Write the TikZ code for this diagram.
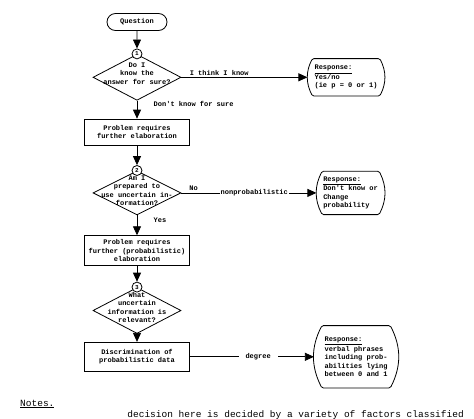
\documentclass[tikz,border=0pt]{standalone}
\usepackage{fontspec}
\setmonofont{Liberation Mono}
\usepackage{tikz}
\usetikzlibrary{shapes.geometric, shapes.misc, arrows.meta, positioning}

% outline of a response box: straight top and bottom, bulging sides
\newcommand{\respframe}[2]{%
  \draw[thick, rounded corners=1.5pt]
    ([xshift=#2]#1.north west) to[bend right=27] ([xshift=#2]#1.south west)
    -- ([xshift=-#2]#1.south east) to[bend right=27] ([xshift=-#2]#1.north east) -- cycle;}

\begin{document}
\begin{tikzpicture}[
    x=1pt, y=-1pt,
    every node/.style={font=\ttfamily\bfseries\fontsize{7}{8.5}\selectfont},
    stadium/.style={rounded rectangle, draw, thick, minimum width=60pt, minimum height=17pt, inner sep=0pt},
    stepbox/.style={rectangle, draw, thick, minimum width=105pt, inner sep=0pt, text centered, align=center},
    decision/.style={diamond, draw, thick, minimum width=88pt, minimum height=46pt, inner sep=0pt},
    dtext/.style={align=center, inner sep=0pt},
    numcirc/.style={circle, draw, thick, fill=white, minimum size=10pt, inner sep=0pt, font=\ttfamily\bfseries\fontsize{6}{6}\selectfont},
    response/.style={rectangle, align=left, inner sep=0pt},
    arrow/.style={-{Triangle[width=8pt,length=9pt]}, thick},
    notefont/.style={font=\ttfamily\fontsize{9.5}{10}\selectfont, inner sep=0pt}
]
\useasboundingbox (0,0) rectangle (474,418);

% Nodes
\node (quest) [stadium] at (137,22) {Question};
\node (d1) [decision, below=23pt of quest] {};
\node (d1txt) [dtext, yshift=4pt] at (d1) {Do I\\know the\\answer for sure?};
\node (c1) [numcirc] at (d1.north) {1};
\node (r1) [response, minimum width=77pt, minimum height=37pt, right=126pt of d1] {\underline{Response:}\\Yes/no\\(ie p = 0 or 1)};

\node (b1) [stepbox, minimum height=26pt, below=18pt of d1] {Problem requires\\further elaboration};
\node (d2) [decision, minimum height=44pt, below=25pt of b1] {};
\node (d2txt) [dtext, yshift=2pt] at (d2) {Am I\\prepared to\\use uncertain in-\\formation?};
\node (c2) [numcirc] at (d2.north) {2};
\node (r2) [response, minimum width=68pt, minimum height=43pt, right=135pt of d2] {\underline{Response:}\\Don't know or\\Change\\probability};

\node (b2) [stepbox, minimum height=30pt, below=20pt of d2] {Problem requires\\further (probabilistic)\\elaboration};
\node (d3) [decision, below=21pt of b2] {};
\node (d3txt) [dtext, yshift=3pt] at (d3) {What\\uncertain\\information is\\relevant?};
\node (c3) [numcirc] at (d3.north) {3};

\node (b3) [stepbox, minimum height=29pt, below=8pt of d3] {Discrimination of\\probabilistic data};
\node (r3) [response, minimum width=84pt, minimum height=62pt, right=124pt of b3] {\underline{Response:}\\verbal phrases\\including prob-\\abilities lying\\between 0 and 1};

\respframe{r1}{5pt}
\respframe{r2}{5.7pt}
\respframe{r3}{8pt}

\node (notes) [notefont, anchor=base west] at (20,406) {\underline{Notes.}};
\node (notetxt) [notefont, anchor=base east] at (464,417) {decision here is decided by a variety of factors classified};

% Arrows
\draw [arrow] (quest) -- (c1);
\draw [arrow] (d1) -- node[above, pos=0.3, inner sep=1.5pt] {I think I know} (r1);
\draw [arrow] (d1) -- node[anchor=west, xshift=13pt, pos=0.2] {Don't know for sure} (b1);
\draw [arrow] (b1) -- (c2);
\draw [arrow] (d2) -- node[above, pos=0.09, inner sep=1.5pt] {No} node[fill=white, pos=0.54, inner sep=1pt] {nonprobabilistic} (r2);
\draw [arrow] (d2) -- node[anchor=west, xshift=13pt, pos=0.25] {Yes} (b2);
\draw [arrow] (b2) -- (c3);
\draw [arrow] (d3) -- (b3);
\draw [arrow] (b3) -- node[fill=white, pos=0.55, inner xsep=7pt] {degree} (r3);

\end{tikzpicture}
\end{document}
